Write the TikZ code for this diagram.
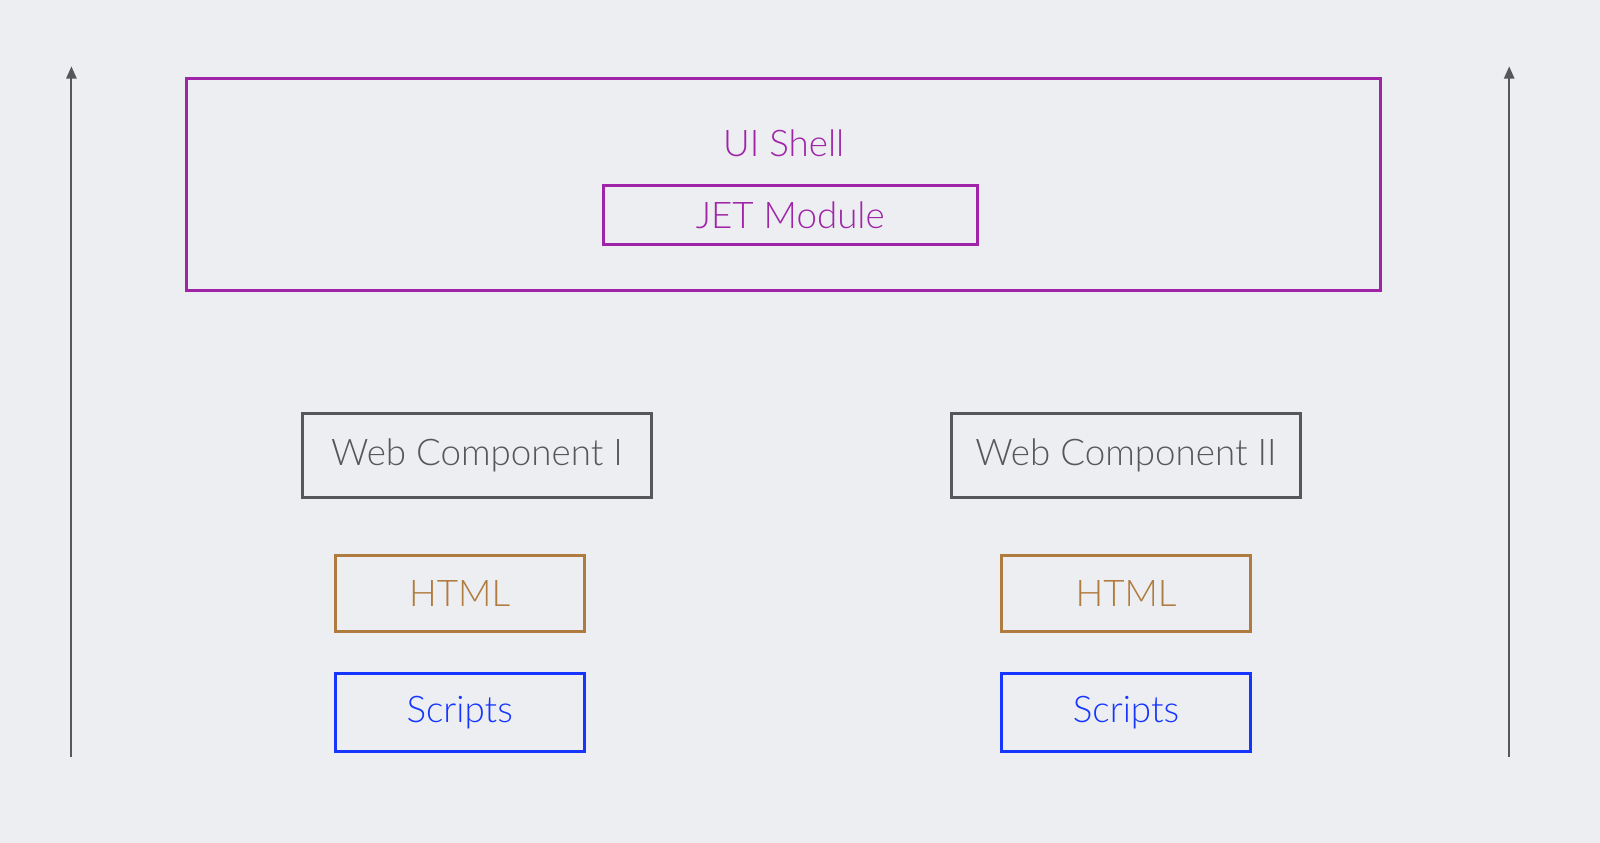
\documentclass[tikz,border=0pt]{standalone}
\usepackage{fontspec}
\setmainfont{Lato Light}
\usetikzlibrary{arrows.meta}
\definecolor{shellpurple}{HTML}{A024A8}
\definecolor{compgray}{HTML}{555758}
\definecolor{htmlbrown}{HTML}{B07B3E}
\definecolor{scriptblue}{HTML}{1636FF}
\definecolor{bggray}{HTML}{ECEEF1}
\begin{document}
\begin{tikzpicture}[x=0.5pt,y=-0.5pt,
  box/.style={draw,line width=1.5pt,inner sep=0pt,font=\fontsize{18}{21}\selectfont},
  shellbox/.style={box,draw=shellpurple,text=shellpurple},
  compbox/.style={box,draw=compgray,text=compgray,minimum width=171pt,minimum height=41pt},
  htmlbox/.style={box,draw=htmlbrown,text=htmlbrown,minimum width=122pt,minimum height=37pt},
  scriptbox/.style={box,draw=scriptblue,text=scriptblue,minimum width=122pt,minimum height=38pt},
  axis/.style={draw=compgray,line width=1pt,-{Triangle[length=6pt,width=5pt]}}]
\fill[bggray] (0,0) rectangle (1568,826);
\useasboundingbox (0,0) rectangle (1568,826);
% layers
\node[shellbox,minimum width=585pt,minimum height=104pt] (shell) at (767.5,180.5) {};
\node[text=shellpurple,font=\fontsize{18}{21}\selectfont] (shelltext) at (768,140) {UI Shell};
\node[shellbox,minimum width=183pt,minimum height=29pt] (jet) at (774.5,211) {JET Module};
% components
\node[compbox] (wc1) at (467.5,446.5) {Web Component I};
\node[compbox] (wc2) at (1103.5,446.5) {Web Component II};
\node[htmlbox] (html1) at (450.5,581.5) {HTML};
\node[htmlbox] (html2) at (1103.5,581.5) {HTML};
\node[scriptbox] (scripts1) at (450.5,698) {Scripts};
\node[scriptbox] (scripts2) at (1103.5,698) {Scripts};
% axes
\coordinate (la) at (70,742);
\coordinate (lb) at (70,65);
\coordinate (ra) at (1479,742);
\coordinate (rb) at (1479,65);
\draw[axis] (la) -- (lb);
\draw[axis] (ra) -- (rb);
\end{tikzpicture}
\end{document}
